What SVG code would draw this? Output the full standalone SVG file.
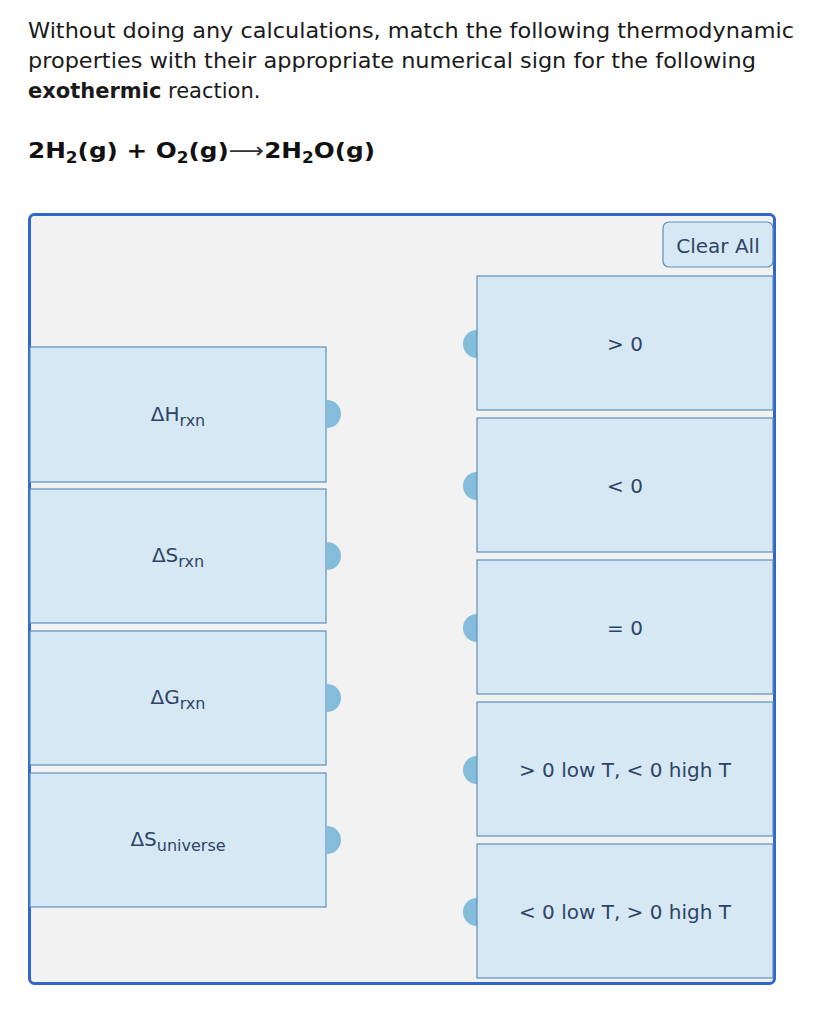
<svg xmlns="http://www.w3.org/2000/svg" width="825" height="1024" viewBox="0 0 825 1024">
<style>
.q{font-family:"DejaVu Sans",sans-serif;font-size:21px;fill:#1a1a1a}
.b{font-family:"DejaVu Sans",sans-serif;font-size:22px;font-weight:bold;fill:#111}
.box{fill:#d6e8f4;stroke:#5b8fbd;stroke-width:1.2}
.t{font-family:"DejaVu Sans",sans-serif;font-size:20px;fill:#2e4466;text-anchor:middle}
.s{font-size:16px}
.dot{fill:#84bcdc}
</style>
<text class="q" x="28" y="38" textLength="766" lengthAdjust="spacingAndGlyphs">Without doing any calculations, match the following thermodynamic</text>
<text class="q" x="28" y="68" textLength="728" lengthAdjust="spacingAndGlyphs">properties with their appropriate numerical sign for the following</text>
<text class="q" x="28" y="98"><tspan font-weight="bold">exothermic</tspan> reaction.</text>
<text class="b" x="28" y="158" textLength="347" lengthAdjust="spacingAndGlyphs">2H<tspan font-size="15" dy="5">2</tspan><tspan dy="-5">(g) + O</tspan><tspan font-size="15" dy="5">2</tspan><tspan dy="-5">(g)</tspan><tspan font-weight="normal" fill="#333">⟶</tspan>2H<tspan font-size="15" dy="5">2</tspan><tspan dy="-5">O(g)</tspan></text>
<rect x="29.5" y="214.5" width="745" height="769" rx="5" fill="#f2f2f2" stroke="#3366cc" stroke-width="3"/>
<g id="clear"><rect x="663" y="222" width="110" height="45" rx="6" fill="#d6e8f4" stroke="#5b8fbd" stroke-width="1.2"/><text class="t" x="718" y="253">Clear All</text></g>
<g id="left1"><path class="dot" d="M327,400 a14,14 0 0 1 0,28z"/><rect class="box" x="30" y="347" width="296" height="135"/><text class="t" x="178" y="421">ΔH<tspan class="s" dy="5">rxn</tspan></text></g>
<g id="left2"><path class="dot" d="M327,542 a14,14 0 0 1 0,28z"/><rect class="box" x="30" y="489" width="296" height="134"/><text class="t" x="178" y="562">ΔS<tspan class="s" dy="5">rxn</tspan></text></g>
<g id="left3"><path class="dot" d="M327,684 a14,14 0 0 1 0,28z"/><rect class="box" x="30" y="631" width="296" height="134"/><text class="t" x="178" y="704">ΔG<tspan class="s" dy="5">rxn</tspan></text></g>
<g id="left4"><path class="dot" d="M327,826 a14,14 0 0 1 0,28z"/><rect class="box" x="30" y="773" width="296" height="134"/><text class="t" x="178" y="846">ΔS<tspan class="s" dy="5">universe</tspan></text></g>
<g id="right1"><path class="dot" d="M477,330 a14,14 0 0 0 0,28z"/><rect class="box" x="477" y="276" width="296" height="134"/><text class="t" x="625" y="351">&gt; 0</text></g>
<g id="right2"><path class="dot" d="M477,472 a14,14 0 0 0 0,28z"/><rect class="box" x="477" y="418" width="296" height="134"/><text class="t" x="625" y="493">&lt; 0</text></g>
<g id="right3"><path class="dot" d="M477,614 a14,14 0 0 0 0,28z"/><rect class="box" x="477" y="560" width="296" height="134"/><text class="t" x="625" y="635">= 0</text></g>
<g id="right4"><path class="dot" d="M477,756 a14,14 0 0 0 0,28z"/><rect class="box" x="477" y="702" width="296" height="134"/><text class="t" x="625" y="777">&gt; 0 low T, &lt; 0 high T</text></g>
<g id="right5"><path class="dot" d="M477,898 a14,14 0 0 0 0,28z"/><rect class="box" x="477" y="844" width="296" height="134"/><text class="t" x="625" y="919">&lt; 0 low T, &gt; 0 high T</text></g>
<g id="connectors"/>
</svg>
